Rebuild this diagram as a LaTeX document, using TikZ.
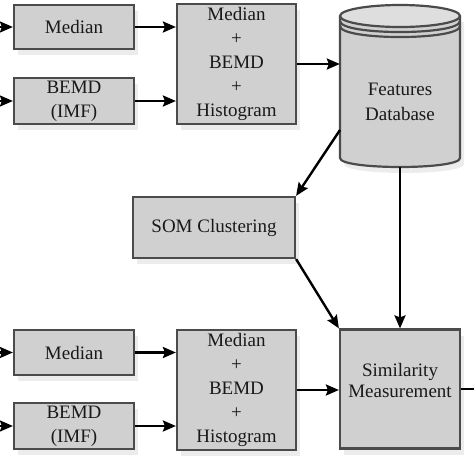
\documentclass[tikz,border=0pt]{standalone}
\usepackage{fontspec}
\setmainfont{Liberation Serif}
\usetikzlibrary{arrows.meta,shadows}
\definecolor{boxfill}{RGB}{208,208,208}
\definecolor{topfill}{RGB}{222,222,222}
\definecolor{boxline}{RGB}{75,75,75}
\definecolor{shadowc}{RGB}{236,236,236}
\begin{document}
\begin{tikzpicture}[x=1pt,y=-1pt,
  txt/.style={inner sep=0pt, align=center, text=black!90, font=\rmfamily\fontsize{19}{24}\selectfont},
  box/.style={txt, draw=boxline, fill=boxfill, line width=2.2pt, minimum width=120pt,
    drop shadow={shadow xshift=4pt, shadow yshift=-6pt, fill=shadowc, opacity=1}},
  arr/.style={line width=2.4pt, draw=black, -{Stealth[length=13pt,width=11pt,inset=2pt]}},
  plain/.style={line width=2.4pt, draw=black},
  cyl/.style={draw=boxline, line width=2.2pt}
]
\useasboundingbox (0,0) rectangle (474,474);

% top row
\node[box, minimum height=44pt] (m1) at (74,27) {Median};
\node[box, minimum height=46pt] (b1) at (74,101) {BEMD\\(IMF)};
\node[box, minimum width=119pt, minimum height=120pt] (c1) at (236.5,64) {Median\\+\\BEMD\\+\\Histogram};

% cylinder (features database)
\fill[shadowc] (344,22) -- (344,164) .. controls (344,176) and (464,176) .. (464,164) -- (464,22) -- cycle;
\fill[boxfill] (340,16) -- (340,158) .. controls (340,170) and (460,170) .. (460,158) -- (460,16) -- cycle;
\draw[cyl] (340,26) .. controls (340,40.7) and (460,40.7) .. (460,26);
\draw[cyl] (340,21) .. controls (340,35.7) and (460,35.7) .. (460,21);
\draw[cyl, fill=topfill] (400,16) ellipse [x radius=60, y radius=11];
\draw[cyl] (340,16) -- (340,158) .. controls (340,170) and (460,170) .. (460,158) -- (460,16);
\node[inner sep=0pt, minimum width=120pt, minimum height=162pt] (db) at (400,86) {};
\node[txt, font=\rmfamily\fontsize{19}{25}\selectfont] (dbt) at (400,102) {Features\\Database};

% SOM
\node[box, minimum width=162pt, minimum height=61pt] (som) at (214,227.5) {SOM Clustering};

% bottom row
\node[box, minimum height=45pt] (m2) at (74,352.5) {Median};
\node[box, minimum height=46pt] (b2) at (74,426) {BEMD\\(IMF)};
\node[box, minimum width=119pt, minimum height=120pt] (c2) at (236.5,390) {Median\\+\\BEMD\\+\\Histogram};
\node[box, minimum height=119pt] (sim) at (400,389) {};
\node[txt, font=\rmfamily\fontsize{19}{21}\selectfont] (simt) at ([yshift=9pt]sim.center) {Similarity\\Measurement};

% inputs
\coordinate (i1) at (0,27);
\coordinate (i2) at (0,101);
\coordinate (i3) at (0,352.5);
\coordinate (i4) at (0,426);
\coordinate (out) at (474,389);
\coordinate (dbsw) at (340,130);

\draw[arr] (i1) -- (m1.west);
\draw[arr] (i2) -- (b1.west);
\draw[arr] (i3) -- (m2.west);
\draw[arr] (i4) -- (b2.west);

\draw[arr] (m1.east) -- (c1.west |- m1.east);
\draw[arr] (b1.east) -- (c1.west |- b1.east);
\draw[arr] (c1.east) -- (c1.east -| db.west);
\draw[arr] (dbsw) -- (som.north east);
\draw[arr] (db.south) -- (sim.north);
\draw[arr] (som.south east) -- (sim.north west);
\draw[arr] (m2.east) -- (c2.west |- m2.east);
\draw[arr] (b2.east) -- (c2.west |- b2.east);
\draw[arr] (c2.east) -- (c2.east -| sim.west);
\draw[plain] (sim.east) -- (out);
\end{tikzpicture}
\end{document}
